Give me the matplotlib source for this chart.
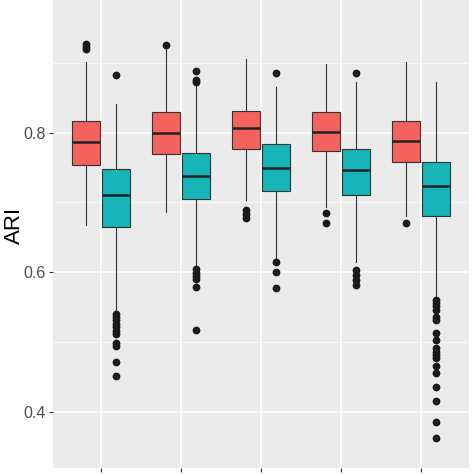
import matplotlib
matplotlib.use("Agg")
import matplotlib.pyplot as plt
from matplotlib.ticker import MultipleLocator

plt.rcParams['font.family'] = ['Liberation Sans', 'DejaVu Sans']

# categories (x tick labels are clipped off in the reference)
categories = ["1", "2", "3", "4", "5"]

# red series box stats
red_q1 = [0.754, 0.770, 0.777, 0.773, 0.758]
red_med = [0.787, 0.800, 0.807, 0.801, 0.788]
red_q3 = [0.817, 0.830, 0.831, 0.830, 0.817]
red_lo = [0.668, 0.686, 0.704, 0.694, 0.680]
red_hi = [0.901, 0.920, 0.905, 0.898, 0.901]
red_out = [
    [0.927, 0.923, 0.920],
    [0.926],
    [0.689, 0.684, 0.677],
    [0.685, 0.671],
    [0.671],
]

# teal series box stats
teal_q1 = [0.665, 0.705, 0.717, 0.710, 0.680]
teal_med = [0.711, 0.738, 0.749, 0.746, 0.723]
teal_q3 = [0.748, 0.771, 0.783, 0.777, 0.758]
teal_lo = [0.546, 0.608, 0.616, 0.614, 0.563]
teal_hi = [0.841, 0.871, 0.866, 0.872, 0.872]
teal_out = [
    [0.882, 0.540, 0.536, 0.531, 0.526, 0.521, 0.516, 0.512, 0.499, 0.495, 0.472, 0.451],
    [0.889, 0.876, 0.873, 0.604, 0.599, 0.595, 0.590, 0.579, 0.517],
    [0.885, 0.615, 0.600, 0.578],
    [0.885, 0.603, 0.596, 0.589, 0.582],
    [0.560, 0.556, 0.551, 0.546, 0.536, 0.532, 0.513, 0.503, 0.491, 0.486, 0.482,
     0.477, 0.466, 0.455, 0.435, 0.415, 0.386, 0.363],
]


def make_stats(q1, med, q3, lo, hi, out):
    return [dict(q1=a, med=b, q3=c, whislo=d, whishi=e, fliers=f)
            for a, b, c, d, e, f in zip(q1, med, q3, lo, hi, out)]


fig = plt.figure(figsize=(4.74, 4.74), dpi=100)
ax = fig.add_axes([53 / 474, 6.3 / 474, 416 / 474, 467.7 / 474])
ax.set_facecolor("#EBEBEB")

pos = list(range(1, len(categories) + 1))
off = 0.1875
w = 0.34
edge = "#333333"
for stats, color, sign in [
    (make_stats(red_q1, red_med, red_q3, red_lo, red_hi, red_out), "#F4625D", -1),
    (make_stats(teal_q1, teal_med, teal_q3, teal_lo, teal_hi, teal_out), "#17B4B8", 1),
]:
    ax.bxp(stats, positions=[p + sign * off for p in pos], widths=w,
           patch_artist=True, showcaps=False, manage_ticks=False,
           boxprops=dict(facecolor=color, edgecolor=edge, linewidth=0.8),
           medianprops=dict(color="#222222", linewidth=1.8),
           whiskerprops=dict(color=edge, linewidth=0.8),
           flierprops=dict(marker="o", markerfacecolor="#1a1a1a",
                           markeredgecolor="#1a1a1a", markersize=4.6))

ax.set_xlim(0.4, len(categories) + 0.6)
ax.set_ylim(0.320, 0.990)
ax.set_xticks(pos)
ax.set_xticklabels(categories)
ax.yaxis.set_major_locator(MultipleLocator(0.2))
ax.yaxis.set_minor_locator(MultipleLocator(0.1))
ax.set_yticks([0.4, 0.6, 0.8])
ax.set_yticklabels(["0.4", "0.6", "0.8"])

ax.grid(True, which="major", color="white", linewidth=1.1)
ax.grid(True, which="minor", axis="y", color="white", linewidth=0.5)
ax.set_axisbelow(True)
for s in ax.spines.values():
    s.set_visible(False)

ax.tick_params(axis="both", which="major", length=3, width=0.8, color="#333333",
               labelsize=11.5, labelcolor="#4D4D4D", pad=2)
ax.tick_params(axis="y", which="minor", length=0)

fig.text(14.5 / 474, 1 - 225 / 474, "ARI", rotation=90, fontsize=16,
         ha="center", va="center", color="black")

fig.savefig("out.png", dpi=100)
